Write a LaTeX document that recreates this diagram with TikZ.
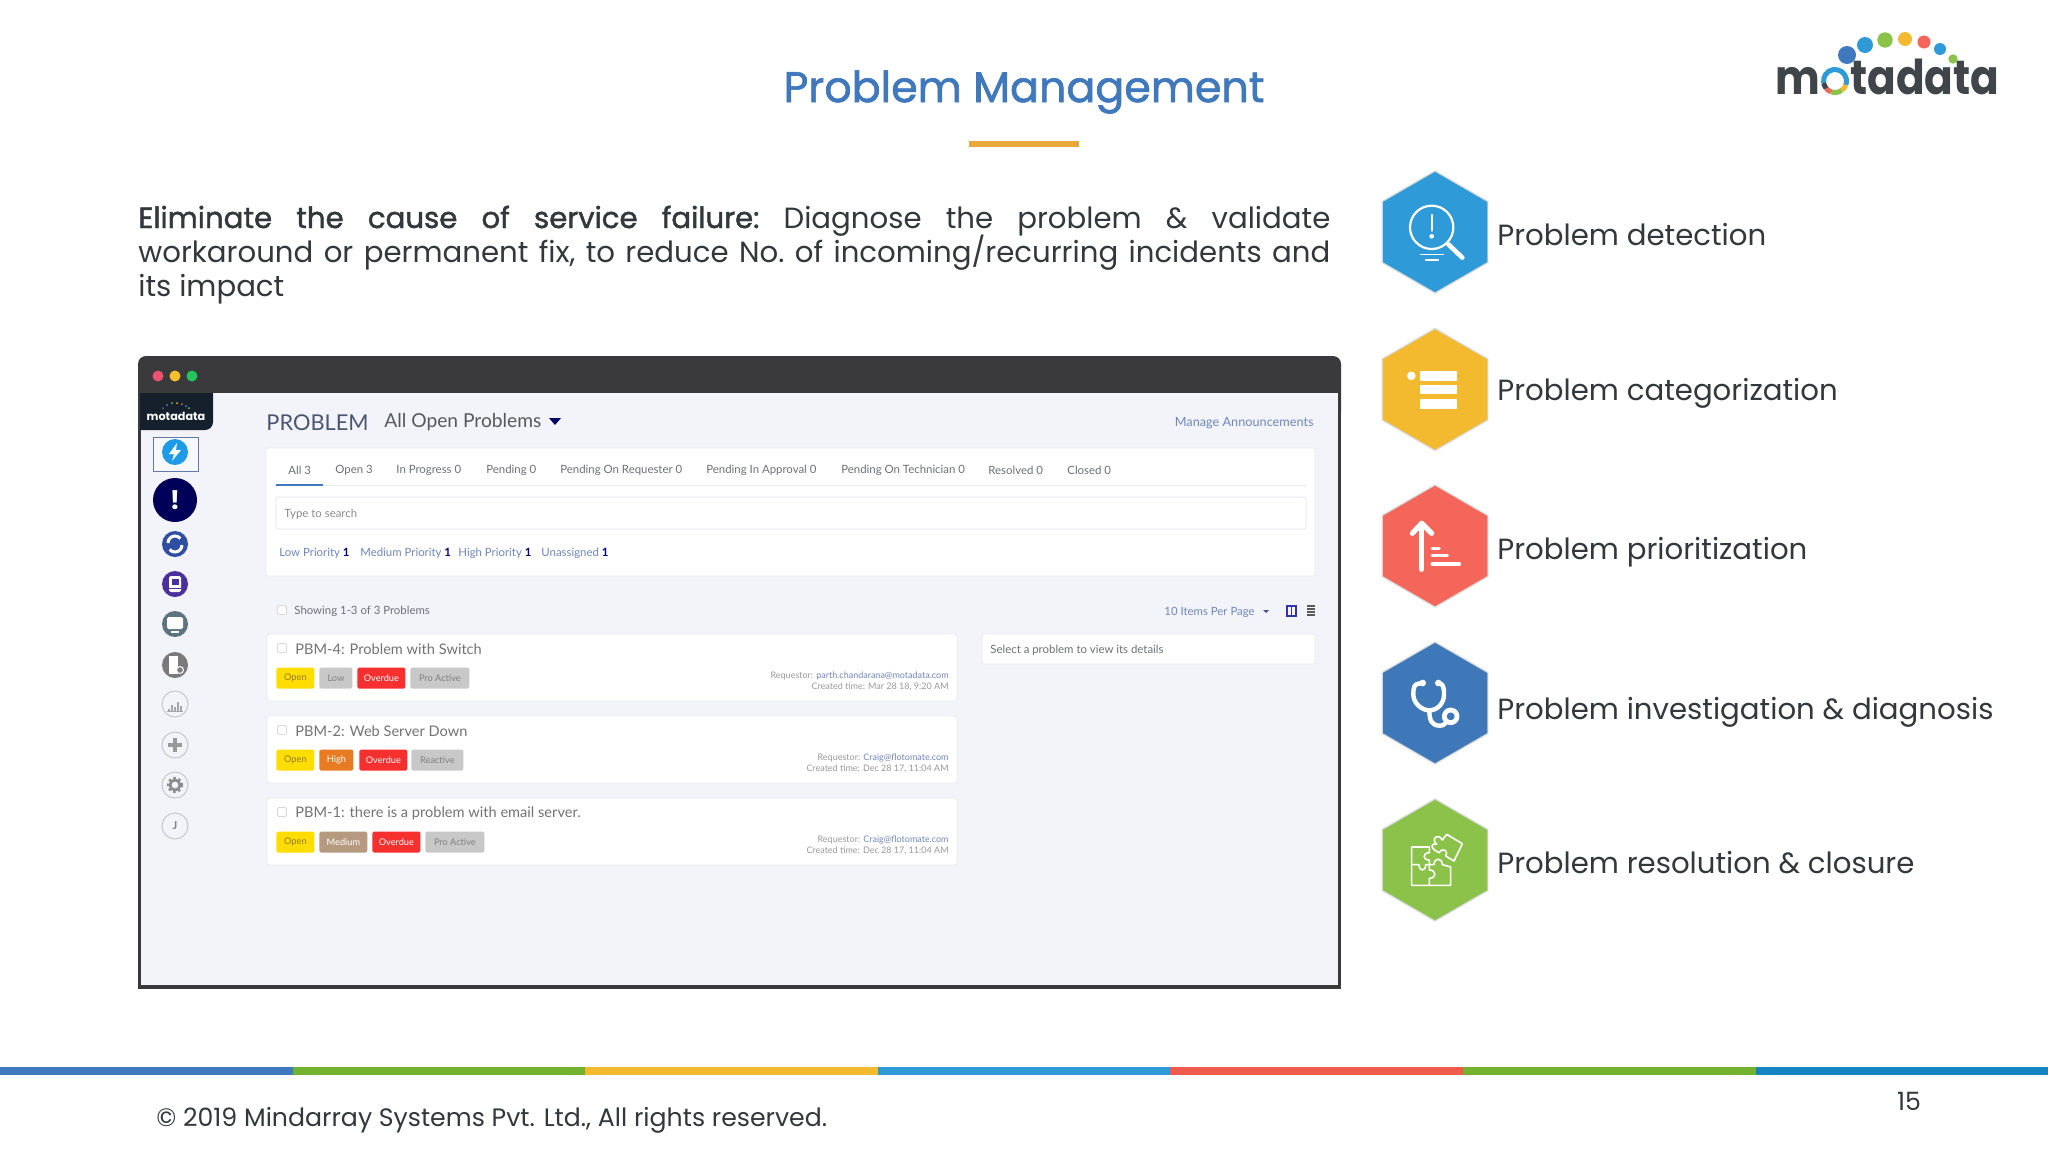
\documentclass[tikz,border=0pt]{standalone}
\usepackage{fontspec}
\usetikzlibrary{shapes.geometric}
\setmainfont{Poppins}
\newfontfamily\uifont{Lato}
\definecolor{titleblue}{HTML}{3F78BD}
\definecolor{barorange}{HTML}{E9A93A}
\definecolor{inkdark}{HTML}{33383C}
\definecolor{logoink}{HTML}{40454A}
\definecolor{hexblue}{HTML}{2E9BD8}
\definecolor{hexyellow}{HTML}{F3B92F}
\definecolor{hexred}{HTML}{F4665A}
\definecolor{hexnavy}{HTML}{3F78B8}
\definecolor{hexgreen}{HTML}{8BC34A}
\definecolor{windowdark}{HTML}{3A3A3C}
\definecolor{windowbg}{HTML}{F2F4F9}
\definecolor{cardline}{HTML}{E8EAF0}
\definecolor{uilink}{HTML}{6F86BD}
\definecolor{uigrey}{HTML}{6E7078}
\definecolor{uihead}{HTML}{4A5570}
\definecolor{navtab}{HTML}{15202C}
\definecolor{tagyellow}{HTML}{FFDD00}
\definecolor{tagred}{HTML}{F5302F}
\definecolor{taggrey}{HTML}{C8C8C8}
\definecolor{tagorange}{HTML}{E87B22}
\definecolor{tagtan}{HTML}{B59A80}
\definecolor{navbook}{HTML}{4A2F9E}
\definecolor{barred}{HTML}{EE5A4B}
\definecolor{bargreen}{HTML}{72B22F}
\definecolor{barblue}{HTML}{1583C4}
\tikzset{
  hexa/.style={regular polygon, regular polygon sides=6, shape border rotate=30, minimum size=61pt, inner sep=0pt, outer sep=0pt, draw=black!15, line width=0.6pt},
  steplabel/.style={anchor=base west, inner sep=0pt, text=inkdark, font=\fontsize{14.6}{17}\selectfont},
  introline/.style={anchor=base west, inner sep=0pt, text=inkdark, font=\fontsize{14.6}{17}\selectfont\frenchspacing},
  hexicon/.style={white, line cap=round, line join=round},
  navdot/.style={circle, minimum size=13pt, inner sep=0pt, outer sep=0pt},
  navring/.style={navdot, fill=windowbg, draw=black!22, line width=0.5pt},
  uitext/.style={inner sep=0pt, anchor=west, yshift=-0.6pt, text=uigrey, font=\uifont\fontsize{5.7}{6}\selectfont},
  uilinktext/.style={uitext, text=uilink},
  card/.style={fill=white, draw=cardline, line width=0.4pt, rounded corners=1pt},
  checkbox/.style={draw=black!15, fill=white, line width=0.4pt, minimum size=4.5pt, inner sep=0pt, rounded corners=0.6pt},
  tagbox/.style={anchor=west, inner sep=0pt, minimum height=10.5pt, rounded corners=0.8pt, font=\uifont\fontsize{4.6}{5}\selectfont},
  rowtitle/.style={uitext, text=black!55, font=\uifont\fontsize{7.3}{8}\selectfont},
  rowmeta/.style={uitext, anchor=east, text=black!40, font=\uifont\fontsize{4.5}{5}\selectfont},
  logotext/.style={anchor=base west, inner sep=0pt, text=logoink, transform shape, xscale=0.88, font=\fontsize{24}{26}\selectfont\bfseries},
}
\begin{document}
\begin{tikzpicture}[x=0.5pt, y=-0.5pt, line cap=butt]
  \useasboundingbox (0,0) rectangle (2048,1152);
  \fill[white] (0,0) rectangle (2048,1152);
  \node[inner sep=0pt, text=titleblue, font=\fontsize{21.4}{24}\selectfont\addfontfeature{FakeBold=1.5}] (pageTitle) at (1024,92) {Problem Management};
  \fill[barorange] (969,141) rectangle (1079,147);
  \foreach \name/\x/\y/\r/\col in {logoA/1847/55/9/titleblue, logoB/1865/45/8/hexblue, logoC/1885/40/7.7/hexgreen, logoD/1905/39/7/hexyellow, logoE/1924/42/6.5/hexred, logoF/1940/49/6/hexblue, logoG/1953/59/4.7/hexgreen}
    \fill[\col] (\x,\y) circle (\r);
  \node[logotext] (logoM) at (1775,94) {m};
  \node[logotext] (logoRest) at (1850,94) {tadata};
  \coordinate (logoRing) at (1835,81);
  \foreach \from/\to/\col in {170/380/hexblue, 20/55/hexyellow, 55/110/hexgreen, 110/140/hexred, 140/170/logoink}
    \draw[\col, line width=2.5pt] (logoRing) ++(\from:11.5) arc[start angle=\from, end angle=\to, radius=11.5];
  \node[introline] (introA) at (138,228) {\makebox[596pt][s]{{\addfontfeature{FakeBold=1.5}Eliminate the cause of service failure:} Diagnose the problem \& validate}};
  \node[introline] (introB) at (138,262) {\makebox[596pt][s]{workaround or permanent fix, to reduce No. of incoming/recurring incidents and}};
  \node[introline] (introC) at (138,296) {its impact};
  \fill[windowdark, rounded corners=4pt] (138,356) rectangle (1341,420);
  \fill[windowdark] (138,390) rectangle (1341,989);
  \fill[windowbg] (141,393) rectangle (1338,985);
  \foreach \name/\x/\col in {dotRed/158/F0506E, dotAmber/175/F8C12C, dotGreen/192/22C55E}{
    \definecolor{lightcol}{HTML}{\col}
    \fill[lightcol] (\x,376) circle (5.5);
  }
  \fill[navtab] (140,393) -- (213,393) -- (213,422) arc[start angle=0, end angle=90, radius=8] -- (140,430) -- cycle;
  \node[inner sep=0pt, text=white, font=\fontsize{5.6}{7}\selectfont\bfseries] (navLogo) at (176,416) {motadata};
  \foreach \x/\y/\col in {163/408/titleblue, 167/405/hexblue, 172/403/hexgreen, 177/403/hexyellow, 182/404/hexred, 186/406/hexblue, 189/408/hexgreen}
    \fill[\col] (\x,\y) circle (1);
  \draw[draw=black!10!uilink, fill=windowbg!60!white, line width=0.4pt] (153,437) rectangle (198,471);
  \foreach \name/\y/\col in {navBolt/452/1E9BE8, navSync/544/2F4FA5, navBook/584/4A2F9E, navScreen/624/5C7480, navFile/665/7A7A7A}{
    \definecolor{navcol}{HTML}{\col}
    \node[navdot, fill=navcol] (\name) at (175,\y) {};
  }
  \node[navdot, minimum size=22pt, fill=blue!35!black, text=white, font=\fontsize{13}{14}\selectfont\bfseries] (navAlert) at (175,500) {!};
  \foreach \name/\y in {navChart/704, navPlus/745, navGear/785, navUser/826}
    \node[navring] (\name) at (175,\y) {};
  \fill[white] ([shift={(2,-9)}]navBolt.center) -- ([shift={(-6,2)}]navBolt.center) -- ([shift={(-1,2)}]navBolt.center) -- ([shift={(-3,9)}]navBolt.center) -- ([shift={(6,-2)}]navBolt.center) -- ([shift={(1,-2)}]navBolt.center) -- cycle;
  \draw[white, line width=1.5pt] ([shift={(-7,-1)}]navSync.center) arc[start angle=180, end angle=320, radius=7];
  \draw[white, line width=1.5pt] ([shift={(7,1)}]navSync.center) arc[start angle=0, end angle=140, radius=7];
  \fill[white, rounded corners=0.8pt] ([shift={(-6,-8)}]navBook.center) rectangle ([shift={(6,8)}]navBook.center);
  \fill[navbook] ([shift={(-3.5,-5)}]navBook.center) rectangle ([shift={(3.5,1)}]navBook.center);
  \fill[navbook] ([shift={(-6,4)}]navBook.center) rectangle ([shift={(6,5)}]navBook.center);
  \fill[white, rounded corners=0.8pt] ([shift={(-8,-7)}]navScreen.center) rectangle ([shift={(8,5)}]navScreen.center);
  \fill[white] ([shift={(-4,7)}]navScreen.center) rectangle ([shift={(4,9)}]navScreen.center);
  \fill[white] ([shift={(-6,-9)}]navFile.center) rectangle ([shift={(3,9)}]navFile.center);
  \draw[white, fill=black!50, line width=0.5pt] ([shift={(5,5)}]navFile.center) circle (3.5);
  \foreach \dx/\dy in {-6/5, -3/1, 0/3, 3/-2, 6/2}
    \draw[black!35, line width=0.6pt] ([shift={(\dx,7)}]navChart.center) -- ([shift={(\dx,\dy)}]navChart.center);
  \draw[black!35, line width=0.5pt] ([shift={(-8,7)}]navChart.center) -- ([shift={(8,7)}]navChart.center);
  \draw[black!40, line width=1.6pt] ([shift={(-7,0)}]navPlus.center) -- ([shift={(7,0)}]navPlus.center);
  \draw[black!40, line width=1.6pt] ([shift={(0,-7)}]navPlus.center) -- ([shift={(0,7)}]navPlus.center);
  \draw[black!45, line width=1.4pt] (navGear.center) circle (5);
  \draw[black!45, line width=1.1pt, dash pattern=on 1.2pt off 1.4pt] (navGear.center) circle (7);
  \node[inner sep=0pt, text=black!50, font=\uifont\fontsize{5.5}{6}\selectfont\bfseries] (navInitial) at (navUser.center) {J};
  \node[uitext, text=uihead, font=\uifont\fontsize{10.9}{12}\selectfont] (pageHead) at (266,421) {PROBLEM};
  \node[uitext, text=black!65, font=\uifont\fontsize{9.6}{11}\selectfont] (viewName) at (384,421) {All Open Problems};
  \fill[blue!40!black] (549,418) -- (561,418) -- (555,425) -- cycle;
  \node[uilinktext, anchor=east, font=\uifont\fontsize{6.35}{7}\selectfont] (manageLink) at (1314,422) {Manage Announcements};
  \draw[card] (266,448) rectangle (1315,576);
  \foreach \name/\x/\txt in {tabAll/288/All 3, tabOpen/335/Open 3, tabProgress/396/In Progress 0, tabPending/486/Pending 0, tabRequester/560/Pending On Requester 0, tabApproval/706/Pending In Approval 0, tabTechnician/841/Pending On Technician 0, tabResolved/988/Resolved 0, tabClosed/1067/Closed 0}
    \node[uitext] (\name) at (\x,469) {\txt};
  \draw[cardline, line width=0.3pt] (276,485) -- (1306,485);
  \draw[titleblue, line width=1pt] (276,485) -- (323,485);
  \draw[cardline, fill=white, line width=0.5pt, rounded corners=1pt] (276,497) rectangle (1306,529);
  \node[uitext, text=black!45] (searchHint) at (284,513) {Type to search};
  \foreach \name/\x/\txt in {prioLow/279/Low Priority, prioMedium/360/Medium Priority, prioHigh/458/High Priority, prioNone/541/Unassigned}
    \node[uilinktext] (\name) at (\x,552) {\txt\ \textcolor{blue!50!black}{\textbf{1}}};
  \node[checkbox] (checkAll) at (282,610) {};
  \node[uitext] (showingText) at (294,610) {Showing 1-3 of 3 Problems};
  \node[uilinktext] (perPage) at (1164,611) {10 Items Per Page};
  \fill[blue!40!black!70] (1263,610) -- (1269,610) -- (1266,613) -- cycle;
  \draw[blue!60!black!80, fill=windowbg, line width=0.7pt] (1287,606) rectangle (1296,616);
  \draw[blue!60!black!80, line width=0.7pt] (1291.5,606) -- (1291.5,616);
  \foreach \y in {606,609,612,615}
    \draw[black!65, line width=0.8pt] (1307,\y) -- (1315,\y);
  \draw[card] (982,634) rectangle (1315,664);
  \node[uitext] (detailHint) at (990,649) {Select a problem to view its details};
  \foreach \name/\y/\txt/\who/\when in {rowFour/634/PBM-4: Problem with Switch/parth.chandarana@motadata.com/{Created time: Mar 28 18, 9:20 AM}, rowTwo/716/PBM-2: Web Server Down/Craig@flotomate.com/{Created time: Dec 28 17, 11:04 AM}, rowOne/798/PBM-1: there is a problem with email server./Craig@flotomate.com/{Created time: Dec 28 17, 11:04 AM}}{
    \draw[card] (267,\y) rectangle (957,\y+67);
    \node[checkbox] (\name Check) at (282,\y+14) {};
    \node[rowtitle] (\name Title) at (295,\y+14) {\txt};
    \node[rowmeta] (\name Who) at (949,\y+41) {Requestor: \textcolor{uilink}{\who}};
    \node[rowmeta] (\name When) at (949,\y+52) {\when};
  }
  \foreach \name/\x/\w/\y/\col/\tcol/\txt in {
    tagA/276/38/678/tagyellow/black!45!tagyellow/Open, tagB/319/33/678/taggrey/black!50/Low, tagC/357/48/678/tagred/white/Overdue, tagD/410/59/678/taggrey/black!50/Pro Active,
    tagE/276/38/760/tagyellow/black!45!tagyellow/Open, tagF/319/34/760/tagorange/white/High, tagG/359/48/760/tagred/white/Overdue, tagH/411/52/760/taggrey/black!50/Reactive,
    tagI/276/38/842/tagyellow/black!45!tagyellow/Open, tagJ/319/48/842/tagtan/white/Medium, tagK/372/48/842/tagred/white/Overdue, tagL/425/59/842/taggrey/black!50/Pro Active}
    \node[tagbox, fill=\col, text=\tcol, minimum width=\w*0.5pt] (\name) at (\x,\y) {\txt};
  \foreach \name/\y/\base/\col/\txt in {hexDetect/232/245/hexblue/Problem detection, hexCategory/389.5/400/hexyellow/Problem categorization, hexPriority/546/559/hexred/Problem prioritization, hexDiagnose/703/719/hexnavy/Problem investigation \& diagnosis, hexResolve/860/873/hexgreen/Problem resolution \& closure}{
    \node[hexa, fill=\col] (\name) at (1435,\y) {};
    \node[steplabel] (\name Label) at (1497,\base) {\txt};
  }
  \begin{scope}[shift={(hexDetect.center)}, scale=1/3, hexicon]
    \draw[line width=1.1pt] (-10,-14) circle (65);
    \draw[line width=1.1pt] (-10,-51) -- (-10,-4);
    \fill (-10,13) circle (7);
    \draw[line width=2.3pt] (40,37) -- (82,77);
    \draw[line width=0.6pt] (-43,67) -- (25,67);
    \draw[line width=0.6pt] (-28,84) -- (10,84);
  \end{scope}
  \begin{scope}[shift={(hexCategory.center)}, scale=1/3, hexicon]
    \fill (-71,-41) circle (13);
    \foreach \y in {-55,-14,29}
      \fill (-45,\y) rectangle (66,\y+28);
  \end{scope}
  \begin{scope}[shift={(hexPriority.center)}, scale=1/3, hexicon]
    \draw[line width=2.6pt] (-40,-68) -- (-40,70);
    \draw[line width=2.6pt] (-68,-38) -- (-40,-68) -- (-10,-38);
    \foreach \y/\x in {7/12, 29/37, 54/73}
      \draw[line width=1.8pt] (-8,\y) -- (\x,\y);
  \end{scope}
  \begin{scope}[shift={(hexDiagnose.center)}, scale=1/3, hexicon]
    \draw[line width=2.2pt] (-37,-60) -- (-50,-58) .. controls (-62,-56) and (-65,-48) .. (-65,-25) .. controls (-65,0) and (-40,22) .. (-17,22) .. controls (8,22) and (27,0) .. (27,-25) .. controls (27,-50) and (24,-58) .. (10,-60);
    \draw[line width=2.2pt] (-17,22) .. controls (-17,52) and (-10,68) .. (15,68) .. controls (22,68) and (26,66) .. (30,62);
    \fill (-37,-60) circle (10);
    \fill (10,-60) circle (10);
    \draw[line width=2.4pt] (47,40) circle (19);
  \end{scope}
  \begin{scope}[shift={(hexResolve.center)}, scale=1/3, hexicon]
    \draw[line width=0.8pt] (-70,-39) -- (-17,-39) -- (-17,-22) .. controls (-38,-22) and (-38,0) .. (-17,0) -- (-17,14) -- (-3,14) .. controls (-3,-8) and (22,-8) .. (22,14) -- (47,21) -- (47,76) -- (-70,76) -- cycle;
    \draw[line width=0.8pt] (-70,14) -- (-48,14) .. controls (-48,35) and (-28,35) .. (-28,14) -- (-17,14) -- (-17,30) .. controls (5,30) and (5,55) .. (-17,55) -- (-17,76);
    \draw[line width=0.8pt] (35,-77) -- (82,-49) -- (57,3) -- (32,-12) .. controls (42,-30) and (20,-38) .. (12,-22) -- (-2,-30) .. controls (-12,-40) and (-12,-50) .. (5,-48) .. controls (-15,-65) and (10,-82) .. (22,-60) -- cycle;
  \end{scope}
  \foreach \from/\to/\col in {0/292.6/titleblue, 292.6/585.2/bargreen, 585.2/877.8/hexyellow, 877.8/1170.4/hexblue, 1170.4/1463/barred, 1463/1755.6/bargreen, 1755.6/2048/barblue}
    \fill[\col] (\from,1067) rectangle (\to,1075);
  \node[anchor=west, inner sep=0pt, text=inkdark, font=\fontsize{12.6}{15}\selectfont] (footerText) at (156,1120) {© 2019 Mindarray Systems Pvt. Ltd., All rights reserved.};
  \node[inner sep=0pt, text=inkdark, font=\fontsize{12.6}{15}\selectfont] (pageNumber) at (1909,1101) {15};
\end{tikzpicture}
\end{document}
